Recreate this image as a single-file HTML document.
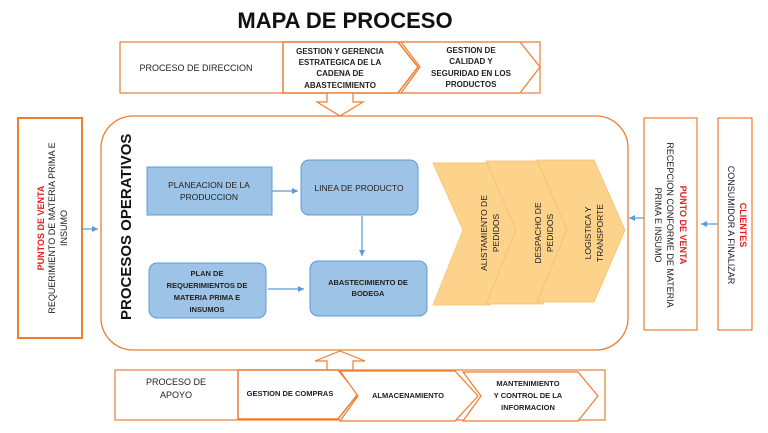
<!DOCTYPE html>
<html><head><meta charset="utf-8"><style>
html,body{margin:0;padding:0;background:#fff}
svg{display:block}
text{font-family:"Liberation Sans",sans-serif}
</style></head><body>
<svg width="768" height="433" viewBox="0 0 768 433" xmlns="http://www.w3.org/2000/svg">
<defs><marker id="a" markerWidth="6" markerHeight="6" refX="5" refY="3" orient="auto"><path d="M0,0.5 L5,3 L0,5.5z" fill="#5b9bd5"/></marker></defs>
<text x="345" y="28" font-size="22" font-weight="bold" text-anchor="middle" fill="#111">MAPA DE PROCESO</text>

<!-- top band -->
<rect x="120" y="42" width="420" height="51" fill="#fff" stroke="#ed7d31" stroke-width="1.2"/>
<text x="196" y="71" font-size="9" text-anchor="middle" fill="#222">PROCESO DE DIRECCION</text>
<path d="M283,42 L398,42 L418,67 L398,93 L283,93z" fill="#fff" stroke="#ed7d31" stroke-width="1.5"/>
<path d="M401,42 L520,42 L540,67 L520,93 L401,93 L420,67z" fill="#fff" stroke="#ed7d31" stroke-width="1.2"/>
<g font-size="8" font-weight="bold" text-anchor="middle" fill="#222">
<text x="340" y="54">GESTION Y GERENCIA</text><text x="340" y="65">ESTRATEGICA DE LA</text><text x="340" y="76">CADENA DE</text><text x="340" y="88">ABASTECIMIENTO</text>
<text x="471" y="53">GESTION DE</text><text x="471" y="64">CALIDAD Y</text><text x="471" y="76">SEGURIDAD EN LOS</text><text x="471" y="87">PRODUCTOS</text>
</g>
<path d="M327,93 L353,93 L353,102 L363,102 L340,116 L317,102 L327,102z" fill="#fff" stroke="#ed7d31" stroke-width="1.2"/>

<!-- main rounded -->
<rect x="101" y="116" width="527" height="234" rx="32" fill="#fff" stroke="#ed7d31" stroke-width="1.3"/>
<text transform="translate(131,320) rotate(-90)" font-size="15" font-weight="bold" fill="#111">PROCESOS OPERATIVOS</text>

<!-- left box -->
<rect x="18" y="118" width="64" height="220" fill="#fff" stroke="#ed7d31" stroke-width="2"/>
<g text-anchor="middle" font-size="9">
<text transform="translate(44,228) rotate(-90)" fill="#e02020" font-weight="bold">PUNTOS DE VENTA</text>
<text transform="translate(55,228) rotate(-90)" fill="#222">REQUERIMIENTO DE MATERIA PRIMA E</text>
<text transform="translate(67,228) rotate(-90)" fill="#222">INSUMO</text>
</g>
<line x1="82" y1="229" x2="98" y2="229" stroke="#5b9bd5" stroke-width="1.2" marker-end="url(#a)"/>

<!-- blue boxes -->
<g fill="#9dc3e6" stroke="#5b9bd5" stroke-width="1">
<rect x="147" y="167" width="125" height="48"/>
<rect x="301" y="160" width="117" height="55" rx="8"/>
<rect x="149" y="263" width="117" height="55" rx="8"/>
<rect x="310" y="261" width="117" height="55" rx="8"/>
</g>
<g font-size="8.5" text-anchor="middle" fill="#222">
<text x="209" y="188">PLANEACION DE LA</text><text x="209" y="200">PRODUCCION</text>
<text x="359" y="191">LINEA DE PRODUCTO</text>
</g>
<g font-size="7.5" font-weight="bold" text-anchor="middle" fill="#222">
<text x="207" y="276">PLAN DE</text><text x="207" y="288">REQUERIMIENTOS DE</text><text x="207" y="300">MATERIA PRIMA E</text><text x="207" y="312">INSUMOS</text>
<text x="368" y="285">ABASTECIMIENTO DE</text><text x="368" y="296">BODEGA</text>
</g>
<g stroke="#5b9bd5" stroke-width="1.2">
<line x1="272" y1="191" x2="298" y2="191" marker-end="url(#a)"/>
<line x1="362" y1="216" x2="362" y2="256" marker-end="url(#a)"/>
<line x1="268" y1="289" x2="304" y2="289" marker-end="url(#a)"/>
</g>

<!-- chevrons -->
<g fill="#fdd28a" stroke="#f5c06a" stroke-width="0.8">
<path d="M433,163 L490,163 L520,230 L490,305 L433,305 L463,230z"/>
<path d="M486,161 L543,161 L573,230 L543,304 L486,304 L516,230z"/>
<path d="M537,160 L594,160 L625,230 L594,302 L537,302 L567,230z"/>
</g>
<g font-size="8.5" text-anchor="middle" fill="#222">
<text transform="translate(487,233) rotate(-90)">ALISTAMIENTO DE</text>
<text transform="translate(499,233) rotate(-90)">PEDIDOS</text>
<text transform="translate(541,233) rotate(-90)">DESPACHO DE</text>
<text transform="translate(553,233) rotate(-90)">PEDIDOS</text>
<text transform="translate(591,233) rotate(-90)">LOGISTICA Y</text>
<text transform="translate(603,233) rotate(-90)">TRANSPORTE</text>
</g>

<!-- right boxes -->
<rect x="644" y="118" width="53" height="212" fill="#fff" stroke="#ed7d31" stroke-width="1.2"/>
<rect x="718" y="118" width="34" height="212" fill="#fff" stroke="#ed7d31" stroke-width="1.2"/>
<g text-anchor="middle" font-size="9">
<text transform="translate(680,225) rotate(90)" fill="#e02020" font-weight="bold">PUNTO DE VENTA</text>
<text transform="translate(667,225) rotate(90)" fill="#222">RECEPCION CONFORME DE MATERIA</text>
<text transform="translate(655,225) rotate(90)" fill="#222">PRIMA E INSUMO</text>
<text transform="translate(740,225) rotate(90)" fill="#e02020" font-weight="bold">CLIENTES</text>
<text transform="translate(728,225) rotate(90)" fill="#222">CONSUMIDOR A FINALIZAR</text>
</g>
<g stroke="#5b9bd5" stroke-width="1.2">
<line x1="644" y1="218" x2="629" y2="218" marker-end="url(#a)"/>
<line x1="718" y1="224" x2="701" y2="224" marker-end="url(#a)"/>
</g>

<!-- bottom -->
<path d="M327,370 L327,361 L315,361 L340,351 L365,361 L353,361 L353,370" fill="#fff" stroke="#ed7d31" stroke-width="1.2"/>
<rect x="115" y="370" width="490" height="50" fill="#fff" stroke="#ed7d31" stroke-width="1.2"/>
<text x="176" y="385" font-size="9" text-anchor="middle" fill="#222">PROCESO DE</text>
<text x="176" y="398" font-size="9" text-anchor="middle" fill="#222">APOYO</text>
<path d="M238,370 L338,370 L358,394 L338,419 L238,419z" fill="#fff" stroke="#ed7d31" stroke-width="1.5"/>
<path d="M340,371 L455,371 L478,396 L455,421 L340,421 L358,396z" fill="#fff" stroke="#ed7d31" stroke-width="1.2"/>
<path d="M463,372 L578,372 L598,396 L578,421 L463,421 L481,396z" fill="#fff" stroke="#ed7d31" stroke-width="1.2"/>
<g font-size="7.5" font-weight="bold" text-anchor="middle" fill="#222">
<text x="290" y="396">GESTION DE COMPRAS</text>
<text x="408" y="398">ALMACENAMIENTO</text>
<text x="528" y="386">MANTENIMIENTO</text><text x="528" y="398">Y CONTROL DE LA</text><text x="528" y="410">INFORMACION</text>
</g>
</svg>
</body></html>
